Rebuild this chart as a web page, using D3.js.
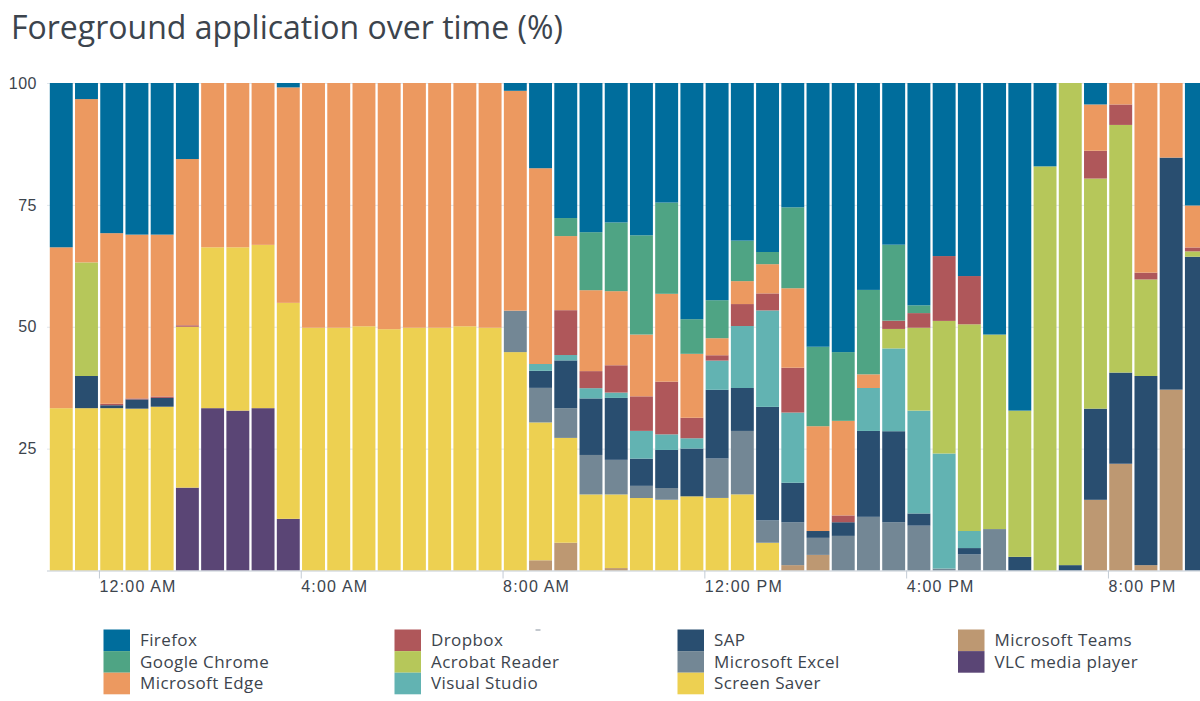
<!DOCTYPE html>
<html>
<head>
  <meta charset="utf-8">
  <style type="text/css">
  body {
    margin: 0;
    background: #fff;
    font-family: "Open Sans", sans-serif;
  }
  svg {
    display: block;
  }
  .title {
    font-size: 32px;
    fill: #3c444d;
  }
  .grid line {
    stroke: #e1e6eb;
    stroke-width: 1px;
  }
  .grid path {
    display: none;
  }
  .grid text {
    font-size: 16px;
    fill: #3c444d;
    letter-spacing: 0.5px;
  }
  .x.axis path,
  .x.axis line {
    stroke: #c3cbd4;
    stroke-width: 1px;
  }
  .x.axis text {
    font-size: 16px;
    fill: #3c444d;
    letter-spacing: 1.2px;
  }
  .legend text {
    font-size: 17px;
    fill: #3c444d;
    letter-spacing: 0.4px;
  }
  </style>
</head>
<body>

  <script src="https://cdn.jsdelivr.net/npm/d3@7"></script>
  <script>
    // half-hour slots, start time of each bar
    var slots = ["23:00","23:30","00:00","00:30","01:00","01:30","02:00","02:30","03:00","03:30",
                 "04:00","04:30","05:00","05:30","06:00","06:30","07:00","07:30","08:00","08:30",
                 "09:00","09:30","10:00","10:30","11:00","11:30","12:00","12:30","13:00","13:30",
                 "14:00","14:30","15:00","15:30","16:00","16:30","17:00","17:30","18:00","18:30",
                 "19:00","19:30","20:00","20:30","21:00","21:30"];

    // legend order (top of stack first)
    var apps = ["Firefox", "Google Chrome", "Microsoft Edge", "Dropbox", "Acrobat Reader",
                "Visual Studio", "SAP", "Microsoft Excel", "Screen Saver", "Microsoft Teams",
                "VLC media player"];
    var colors = ["#006d9c", "#4fa484", "#ec9960", "#af575a", "#b6c75a",
                  "#62b3b2", "#294e70", "#738795", "#edd051", "#bd9872", "#5a4575"];

    // share of time per slot (%)
    var firefox = [33.7,3.3,30.8,31.1,31.1,15.6,0,0,0,0.9,0,0,0,0,0,0,0,0,1.6,17.5,27.7,30.6,28.6,31.3,24.5,48.4,44.6,32.3,34.7,25.5,54.1,55.2,42.4,33.2,45.6,35.5,39.6,51.6,67.2,17.1,0,4.4,0,0,0,25.1];
    var chrome = [0,0,0,0,0,0,0,0,0,0,0,0,0,0,0,0,0,0,0,0,3.7,11.9,14.1,20.4,18.7,7.1,7.8,8.3,2.5,16.6,16.3,14.1,17.3,15.6,1.6,0,0,0,0,0,0,0,0,0,0,0];
    var edge = [33.0,33.5,35.0,33.6,33.2,34.1,33.7,33.7,33.2,44.2,50.2,50.2,49.9,50.5,50.2,50.2,49.9,50.2,45.1,40.2,15.2,16.6,15.2,12.7,18.0,13.1,3.5,4.7,6.0,16.3,21.5,19.4,2.8,0,0,0,0,0,0,0,0,9.5,4.4,38.9,15.3,8.6];
    var dropbox = [0,0,0.3,0.2,0.3,0.3,0,0,0,0,0,0,0,0,0,0,0,0,0,0,9.2,3.5,5.6,7.1,10.8,4.2,1.1,4.5,3.5,9.2,0,1.4,0,1.7,3.0,13.3,9.9,0,0,0,0,5.7,4.2,1.4,0,0.8];
    var acrobat = [0,23.3,0,0,0,0,0,0,0,0,0,0,0,0,0,0,0,0,0,0,0,0,0,0,0,0,0,0,0,0,0,0,0,4.0,17.0,27.2,42.4,39.9,30.0,82.9,98.9,47.2,50.8,19.8,0,1.1];
    var visualStudio = [0,0,0,0,0,0,0,0,0,0,0,0,0,0,0,0,0,0,0,1.4,1.1,2.1,1.1,5.7,3.2,2.1,6.0,12.7,19.8,14.4,0,0,8.8,17.0,21.1,23.6,3.5,0,0,0,0,0,0,0,0,0];
    var sap = [0,6.6,0.6,1.9,1.8,0,0,0,0,0,0,0,0,0,0,0,0,0,0,3.5,9.8,11.6,12.7,5.6,7.8,9.8,14.1,8.8,23.3,8.1,1.4,2.8,17.6,18.7,2.5,0,1.3,0,2.8,0,1.1,18.7,18.7,38.8,47.6,64.3];
    var excel = [0,0,0,0,0,0,0,0,0,0,0,0,0,0,0,0,0,0,8.5,7.1,6.1,8.1,7.1,2.5,2.4,0,8.1,13.0,4.6,8.8,3.5,7.1,11.0,9.9,9.2,0.4,3.3,8.5,0,0,0,0,0,0,0,0];
    var screenSaver = [33.3,33.3,33.3,33.2,33.6,33.0,33.0,33.5,33.5,44.3,49.8,49.8,50.1,49.5,49.8,49.8,50.1,49.8,44.8,28.3,21.5,15.6,15.1,14.9,14.5,15.2,14.9,15.6,5.7,0,0,0,0,0,0,0,0,0,0,0,0,0,0,0,0,0];
    var teams = [0,0,0,0,0,0,0,0,0,0,0,0,0,0,0,0,0,0,0,2.1,5.7,0,0.5,0,0,0,0,0,0,1.1,3.2,0,0,0,0,0,0,0,0,0,0,14.5,21.9,1.1,37.1,0];
    var vlc = [0,0,0,0,0,17.0,33.3,32.8,33.3,10.6,0,0,0,0,0,0,0,0,0,0,0,0,0,0,0,0,0,0,0,0,0,0,0,0,0,0,0,0,0,0,0,0,0,0,0,0];

    var yTicks = [25, 50, 75, 100];

    var valuesByApp = [firefox, chrome, edge, dropbox, acrobat, visualStudio, sap, excel, screenSaver, teams, vlc];

    // slots run from the evening before into the next day
    var parseSlot = function(s, i) {
      var h = +s.slice(0, 2), m = +s.slice(3, 5);
      return new Date(2021, 0, i < 2 ? 1 : 2, h, m);
    };

    var rows = slots.map(function(s, i) {
      var row = { time: parseSlot(s, i) };
      apps.forEach(function(a, k) { row[a] = valuesByApp[k][i]; });
      return row;
    });

    var width = 1200, height = 701;
    var plotTop = 83, plotBottom = 570.5, plotLeft = 47;

    var svg = d3.select("body").append("svg")
        .attr("width", width)
        .attr("height", height);

    svg.append("text")
        .attr("class", "title")
        .attr("x", 11)
        .attr("y", 39)
        .text("Foreground application over time (%)");

    // Scales
    var x = d3.scaleTime()
        .domain([new Date(2021, 0, 1, 23, 0), new Date(2021, 0, 2, 22, 0)])
        .range([48.5, 48.5 + 23 * 50.45]);
    var y = d3.scaleLinear()
        .domain([0, 100])
        .range([plotBottom, plotTop]);
    var color = d3.scaleOrdinal()
        .domain(apps)
        .range(colors);

    // gridlines + y labels
    svg.append("g")
        .attr("class", "grid")
        .attr("transform", "translate(" + plotLeft + ",0)")
        .call(d3.axisLeft(y)
          .tickValues(yTicks)
          .tickSize(-(width - plotLeft))
          .tickPadding(10))
      .selectAll("text")
        .attr("x", -10);

    // stacked 100% bars, bottom of stack = end of legend
    var stack = d3.stack()
        .keys(apps.slice().reverse())
        .offset(d3.stackOffsetExpand);
    var layers = stack(rows);

    var halfHour = 30 * 60 * 1000;
    svg.append("g")
      .selectAll("g")
        .data(layers)
      .enter().append("g")
        .attr("fill", function(d) { return color(d.key); })
      .selectAll("rect")
        .data(function(d) { return d; })
      .enter().append("rect")
        .attr("x", function(d) { return x(d.data.time) + 1.3; })
        .attr("width", function(d) { return x(new Date(+d.data.time + halfHour)) - x(d.data.time) - 2.3; })
        .attr("y", function(d) { return y(d[1] * 100); })
        .attr("height", function(d) { return y(d[0] * 100) - y(d[1] * 100); });

    // x axis
    var xAxis = svg.append("g")
        .attr("class", "x axis")
        .attr("transform", "translate(0," + plotBottom + ")")
        .call(d3.axisBottom(x)
          .ticks(d3.timeHour.every(4))
          .tickFormat(d3.timeFormat("%-I:%M %p"))
          .tickSizeInner(8)
          .tickSizeOuter(0));
    xAxis.select(".domain")
        .attr("d", "M" + plotLeft + ",0.5H" + width);
    xAxis.selectAll("text")
        .attr("text-anchor", "start")
        .attr("x", 0)
        .attr("y", 21)
        .attr("dy", null);

    // legend, 4 columns of 3
    var legendCols = [103.5, 394.5, 677.5, 958];
    var legend = svg.append("g")
        .attr("class", "legend")
      .selectAll("g")
        .data(apps)
      .enter().append("g")
        .attr("transform", function(d, i) {
          return "translate(" + legendCols[Math.floor(i / 3)] + "," + (629.5 + (i % 3) * 21.6) + ")";
        });
    legend.append("rect")
        .attr("width", 26.5)
        .attr("height", 21.6)
        .attr("fill", function(d) { return color(d); });
    legend.append("text")
        .attr("x", 36.5)
        .attr("y", 16.5)
        .text(function(d) { return d; });

    // little stray mark above the second legend column
    svg.append("line")
        .attr("x1", 535.5).attr("x2", 540.5)
        .attr("y1", 630).attr("y2", 630)
        .attr("stroke", "#9aa3ad")
        .attr("stroke-width", 1.2);
  </script>
</body>
</html>
